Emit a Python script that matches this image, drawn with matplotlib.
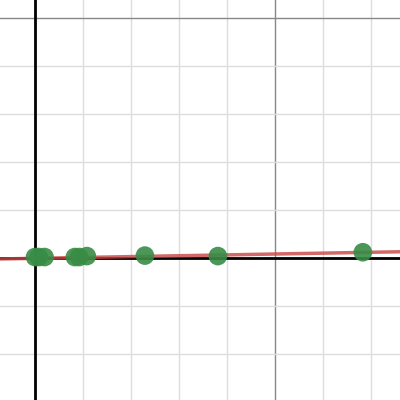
import matplotlib
matplotlib.use("Agg")
import matplotlib.pyplot as plt
import numpy as np

xs = [0.0, 0.08, 0.2, 0.83, 0.92, 1.08, 2.29, 3.81, 6.83]
ys = [0.02, 0.02, 0.02, 0.02, 0.02, 0.04, 0.05, 0.04, 0.12]
line_x = [-0.73, 7.6]
line_y = [-0.02, 0.13]

fig = plt.figure(figsize=(4, 4), dpi=100)
ax = fig.add_axes([0, 0, 1, 1])
xmin, xmax = -35/48, 365/48
ymin, ymax = -142/48, 258/48
ax.set_xlim(xmin, xmax); ax.set_ylim(ymin, ymax)
for gx in range(-1, 9):
    major = gx % 5 == 0 and gx != 0
    ax.axvline(gx, color='#888888' if major else '#dddddd', lw=1, zorder=0)
for gy in range(-3, 6):
    major = gy % 5 == 0 and gy != 0
    ax.axhline(gy, color='#888888' if major else '#dddddd', lw=1, zorder=0)
ax.axvline(0, color='black', lw=2, zorder=1)
ax.axhline(0, color='black', lw=2, zorder=1)
ax.plot(line_x, line_y, color='#c74440', lw=2.5, alpha=0.8, zorder=2)
ax.scatter(xs, ys, s=180, color='#388c46', alpha=0.9, zorder=3, edgecolors='none')
ax.axis('off')
fig.savefig('out.png', dpi=100)
